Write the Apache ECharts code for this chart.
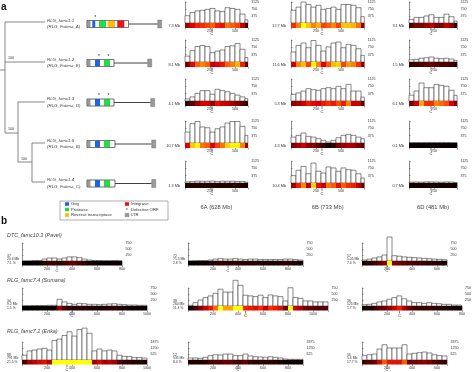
<!DOCTYPE html>
<html><head><meta charset="utf-8">
<script src="https://cdn.jsdelivr.net/npm/echarts@6/dist/echarts.min.js"></script>
<style>html,body{margin:0;padding:0;background:#fff}#c{width:474px;height:372px}</style>
</head><body><div id="c"></div><script>
// ================= DATA =================
const chromosomeTitles = ['6A (628 Mb)', '6B (733 Mb)', '6D (481 Mb)'];
const chromosomeLengths = [628, 733, 481];
const centromereMb = [270, 310, 220];
const binSizeMb = 50;
const xTickStepMb = 250;
const copyTicksA = [375, 750, 1125];

const familiesA = ['RLG_famc1.1', 'RLG_famc1.2', 'RLG_famc1.3', 'RLG_famc1.5', 'RLG_famc1.4'];
const aliasesA = ['(RLG_Fatima_A)', '(RLG_Fatima_E)', '(RLG_Fatima_D)', '(RLG_Fatima_B)', '(RLG_Fatima_C)'];
const coverage6A = ['7.3 Mb', '8.1 Mb', '4.1 Mb', '10.7 Mb', '1.3 Mb'];
const coverage6B = ['12.7 Mb', '11.6 Mb', '5.3 Mb', '4.3 Mb', '10.4 Mb'];
const coverage6D = ['3.1 Mb', '1.5 Mb', '6.1 Mb', '0.1 Mb', '0.7 Mb'];

// copies per 50 Mb bin
const famc1_1_6A = [390, 560, 650, 680, 730, 780, 650, 610, 820, 780, 730, 480, 170];
const famc1_1_6B = [680, 850, 1125, 990, 850, 950, 730, 780, 850, 730, 990, 990, 950, 820, 340];
const famc1_1_6D = [190, 300, 300, 375, 440, 300, 300, 475, 340, 100];
const famc1_2_6A = [300, 580, 790, 845, 790, 475, 560, 615, 790, 830, 950, 650, 230];
const famc1_2_6B = [510, 850, 970, 730, 1100, 850, 560, 770, 970, 1020, 730, 900, 850, 680, 340];
const famc1_2_6D = [120, 135, 190, 220, 255, 190, 170, 190, 150, 85];
const famc1_3_6A = [105, 210, 390, 530, 530, 350, 600, 530, 475, 390, 300, 210, 120];
const famc1_3_6B = [340, 410, 510, 630, 580, 545, 630, 680, 630, 750, 630, 850, 510, 510, 200];
const famc1_3_6D = [300, 510, 920, 680, 680, 850, 800, 750, 545, 290];
const famc1_5_6A = [560, 990, 1100, 820, 780, 560, 730, 820, 1020, 1100, 1100, 850, 390];
const famc1_5_6B = [300, 390, 510, 340, 300, 220, 135, 50, 135, 270, 390, 440, 390, 300, 220];
const famc1_5_6D = [20, 25, 20, 30, 25, 20, 30, 25, 20, 15];
const famc1_4_6A = [60, 80, 90, 85, 90, 100, 80, 90, 85, 90, 80, 75, 50];
const famc1_4_6B = [375, 650, 850, 475, 1020, 600, 510, 820, 770, 600, 770, 680, 650, 475, 255];
const famc1_4_6D = [40, 50, 45, 60, 55, 50, 45, 55, 50, 30];

// panel b
const familiesB = ['DTC_famc10.3 (Pavel)', 'RLG_famc7.4 (Sumana)', 'RLG_famc7.2 (Erika)'];
const binSizeB = 40;
const xTickStepB = 200;
const copyTicksB = [[250, 500, 750], [250, 500, 750], [625, 1250, 1875]];
const pavelStats = [['37', '20.6 Mb', '7.1 %'], ['72', '71.5 Mb', '2.8 %'], ['57', '5.05 Mb', '7.4 %']];
const sumanaStats = [['34', '9.2 Mb', '1.5 %'], ['38', '260 Mb', '11.3 %'], ['36', '125 Mb', '1.7 %']];
const erikaStats = [['88', '791 Mb', '21.5 %'], ['12', '535 Mb', '8.4 %'], ['56', '5.6 Mb', '17.7 %']];
const centromereB = [[280, 320, 200], [400, 460, 300], [360, 400, 200]];

const pavel_6A = [0, 0, 20, 20, 80, 125, 125, 80, 125, 170, 170, 140, 80, 40, 20, 20, 10, 10, 20, 10];
const pavel_6B = [0, 10, 20, 20, 40, 80, 100, 80, 80, 100, 80, 60, 80, 80, 60, 60, 60, 60, 60, 80, 80, 60, 40];
const pavel_6D = [40, 80, 125, 170, 250, 1000, 220, 200, 170, 155, 140, 125, 110, 95, 80, 70, 55];
const sumana_6A = [10, 10, 20, 20, 20, 30, 30, 280, 170, 110, 70, 110, 95, 70, 70, 55, 70, 85, 95, 70, 55, 40, 40, 30, 30];
const sumana_6B = [30, 140, 250, 350, 420, 530, 700, 580, 580, 1070, 860, 450, 420, 390, 450, 350, 460, 420, 390, 210, 760, 350, 320, 210, 210, 170, 170, 170];
const sumana_6D = [55, 70, 110, 170, 210, 280, 350, 420, 300, 210, 140, 140, 110, 140, 110, 95, 70, 70, 40, 40];
const erika_6A = [495, 945, 1035, 1145, 1220, 1035, 2025, 2180, 2550, 2940, 2490, 3170, 3320, 2780, 945, 1145, 945, 1035, 945, 495, 375, 375, 265, 265, 200];
const erika_6B = [210, 210, 180, 280, 450, 550, 520, 620, 620, 450, 450, 620, 420, 340, 310, 280, 340, 280, 210, 100, 70, 70, 70];
const erika_6D = [450, 550, 620, 1140, 1590, 1250, 1250, 1250, 1590, 620, 700, 760, 830, 730, 550, 450, 420];

// ================= LAYOUT / STYLE =================
const FONT = '"Liberation Sans", Arial, sans-serif';
const INK = '#333';
const A_ZERO_Y = [23, 62, 101, 143, 183];
const A_COL_X = [185, 291, 409];
const A_PX_PER_MB = 0.1;
const A_HIST_H = 22, A_STRIP_H = 5;
const B_ZERO_Y = [261, 306, 360];
const B_COL_X = [22, 188, 362];
const B_PX_PER_BIN = 5;
const B_HIST_H = 18, B_STRIP_H = 4.5;

const HEAT_A = [[0, [0, 0, 0]], [0.1, [48, 0, 0]], [0.3, [144, 0, 0]], [0.5, [224, 0, 0]], [0.65, [255, 64, 0]], [0.75, [255, 128, 0]], [0.9, [255, 208, 0]], [1, [255, 255, 0]]];
const HEAT_B = [[0, [0, 0, 0]], [0.12, [58, 0, 0]], [0.3, [176, 0, 0]], [0.42, [255, 32, 0]], [0.52, [255, 128, 0]], [0.6, [255, 255, 0]], [1, [255, 255, 0]]];
function heat(t, stops) {
  t = Math.max(0, Math.min(1, t));
  for (let i = 1; i < stops.length; i++) {
    if (t <= stops[i][0]) {
      const [t0, c0] = stops[i - 1], [t1, c1] = stops[i];
      const f = (t - t0) / (t1 - t0 || 1);
      const c = c0.map((v, k) => Math.round(v + (c1[k] - v) * f));
      return 'rgb(' + c.join(',') + ')';
    }
  }
  return 'rgb(' + stops[stops.length - 1][1].join(',') + ')';
}

const grids = [], xAxes = [], yAxes = [], series = [], graphic = [];
function txt(x, y, s, size, opt) {
  opt = opt || {};
  graphic.push({type: 'text', x: x, y: y, silent: true, style: {
    text: s, fontSize: size, fontFamily: FONT, fontStyle: opt.italic ? 'italic' : 'normal',
    fontWeight: opt.bold ? 'bold' : 'normal', fill: opt.color || INK,
    align: opt.align || 'left', verticalAlign: opt.va || 'middle',
    textAlign: opt.align || 'left', textVerticalAlign: opt.va || 'middle'}});
}
function line(x1, y1, x2, y2, w, c) {
  graphic.push({type: 'line', silent: true, shape: {x1, y1, x2, y2}, style: {stroke: c || '#555', lineWidth: w || 0.8}});
}
function rect(x, y, w, h, fill, stroke, lw) {
  graphic.push({type: 'rect', silent: true, shape: {x, y, width: w, height: h}, style: {fill: fill || 'none', stroke: stroke || null, lineWidth: lw || 0}});
}

function addHistogram(o) {
  const gi = grids.length;
  grids.push({left: o.x0, top: o.zeroY - o.histH, width: o.width, height: o.histH, containLabel: false});
  xAxes.push({gridIndex: gi, type: 'value', min: 0, max: o.xMax, show: false});
  yAxes.push({gridIndex: gi, type: 'value', min: 0, max: o.yTicks[2], interval: o.yTicks[0], position: 'right', offset: 2,
    axisLine: {show: true, lineStyle: {color: '#444', width: 0.6}},
    axisTick: {show: true, length: 1.5, lineStyle: {color: '#444', width: 0.5}},
    axisLabel: {show: true, fontSize: 3.6, color: INK, margin: 1.5, showMinLabel: false, fontFamily: FONT,
      formatter: v => String(v)},
    splitLine: {show: false}});
  const data = o.values.map((v, i) => [i * o.bin, Math.min((i + 1) * o.bin, o.len), v]);
  series.push({type: 'custom', xAxisIndex: gi, yAxisIndex: gi, silent: true, clip: false, data: data,
    encode: {x: [0, 1], y: 2},
    renderItem: (p, api) => {
      const a = api.coord([api.value(0), api.value(2)]);
      const b = api.coord([api.value(1), 0]);
      return {type: 'rect', shape: {x: a[0], y: a[1], width: b[0] - a[0], height: b[1] - a[1]},
        style: {fill: '#fff', stroke: '#3a3a3a', lineWidth: 0.6}};
    }});
  const si = grids.length;
  grids.push({left: o.x0, top: o.zeroY, width: o.width, height: o.stripH});
  xAxes.push({gridIndex: si, type: 'value', min: 0, max: o.xMax, interval: o.xStep,
    axisLine: {show: false}, axisTick: {show: true, length: 1.5, lineStyle: {color: '#444', width: 0.5}},
    axisLabel: {fontSize: 3.6, color: INK, margin: 1.2, fontFamily: FONT,
      formatter: v => (v > 0 && v % o.xStep === 0) ? String(v) : ''},
    splitLine: {show: false}});
  yAxes.push({gridIndex: si, type: 'value', min: 0, max: 1, show: false});
  series.push({type: 'custom', xAxisIndex: si, yAxisIndex: si, silent: true, data: data,
    encode: {x: [0, 1]},
    renderItem: (p, api) => {
      const a = api.coord([api.value(0), 1]);
      const b = api.coord([api.value(1), 0]);
      return {type: 'rect', shape: {x: a[0], y: a[1], width: b[0] - a[0] + 0.3, height: b[1] - a[1]},
        style: {fill: heat(api.value(2) / o.norm, o.stops)}};
    }});
  series.push({type: 'custom', xAxisIndex: si, yAxisIndex: si, silent: true, clip: false, data: [[o.cen, 0]],
    renderItem: (p, api) => {
      const c = api.coord([api.value(0), 0]);
      return {type: 'group', children: [
        {type: 'line', shape: {x1: c[0], y1: c[1], x2: c[0], y2: c[1] + 3}, style: {stroke: '#333', lineWidth: 0.6}},
        {type: 'text', style: {text: 'C', x: c[0], y: c[1] + 5.6, fontSize: 4, fontFamily: FONT, fill: INK, align: 'center', verticalAlign: 'middle', textAlign: 'center', textVerticalAlign: 'middle'}}
      ]};
    }});
}

// ---------- Panel a histograms ----------
const panelAValues = [
  [famc1_1_6A, famc1_1_6B, famc1_1_6D],
  [famc1_2_6A, famc1_2_6B, famc1_2_6D],
  [famc1_3_6A, famc1_3_6B, famc1_3_6D],
  [famc1_5_6A, famc1_5_6B, famc1_5_6D],
  [famc1_4_6A, famc1_4_6B, famc1_4_6D]
];
const coverageA = [coverage6A, coverage6B, coverage6D];
panelAValues.forEach((row, r) => {
  row.forEach((vals, c) => {
    const len = chromosomeLengths[c];
    addHistogram({x0: A_COL_X[c], zeroY: A_ZERO_Y[r], width: len * A_PX_PER_MB, histH: A_HIST_H, stripH: A_STRIP_H,
      xMax: len, len: len, bin: binSizeMb, xStep: xTickStepMb, yTicks: copyTicksA, values: vals,
      norm: copyTicksA[2], stops: HEAT_A, cen: centromereMb[c]});
    txt(A_COL_X[c] - 5, A_ZERO_Y[r] + 2.6, coverageA[c][r], 3.8, {align: 'right'});
  });
});
chromosomeTitles.forEach((t, c) => {
  txt(A_COL_X[c] + chromosomeLengths[c] * A_PX_PER_MB / 2, 207.5, t, 5.8, {align: 'center', color: '#444'});
});

// ---------- Panel b histograms ----------
const panelBValues = [[pavel_6A, pavel_6B, pavel_6D], [sumana_6A, sumana_6B, sumana_6D], [erika_6A, erika_6B, erika_6D]];
const panelBStats = [pavelStats, sumanaStats, erikaStats];
panelBValues.forEach((row, r) => {
  const rowMax = Math.max(...row.map(v => Math.max(...v)));
  row.forEach((vals, c) => {
    const n = vals.length;
    addHistogram({x0: B_COL_X[c], zeroY: B_ZERO_Y[r], width: n * B_PX_PER_BIN, histH: B_HIST_H, stripH: B_STRIP_H,
      xMax: n * binSizeB, len: n * binSizeB, bin: binSizeB, xStep: xTickStepB, yTicks: copyTicksB[r], values: vals,
      norm: rowMax, stops: HEAT_B, cen: centromereB[r][c]});
    const s = panelBStats[r][c];
    s.forEach((t, k) => txt(B_COL_X[c] - 15, B_ZERO_Y[r] - 5 + k * 3.3, t, 3.4));
  });
  txt(7, [235, 280, 331][r], familiesB[r], 5.4, {italic: true, color: '#444'});
});

// ---------- Panel letters ----------
txt(1, 7.5, 'a', 10, {bold: true, color: '#111'});
txt(1, 221.5, 'b', 10, {bold: true, color: '#111'});

// ---------- Tree ----------
[[0, 70, 5, 70], [5, 22, 5, 133], [5, 22, 45, 22], [5, 62, 45, 62], [5, 133, 18, 133], [18, 102, 18, 162],
 [18, 102, 45, 102], [18, 162, 32, 162], [32, 143, 32, 182], [32, 143, 45, 143], [32, 182, 45, 182]]
  .forEach(l => line(l[0], l[1], l[2], l[3], 0.7, '#555'));
txt(8, 57.5, '100', 3.6); txt(8, 128.5, '100', 3.6); txt(21, 158.5, '100', 3.6);

// ---------- Element structures ----------
const COL = {gag: '#1f63e6', pro: '#22dd44', rt: '#ffbb11', int: '#ee1111', ltr: '#999'};
const geneY = [24, 63, 102.5, 144, 183.5];
const geneEnd = [128.5, 114, 114, 115, 115];
const ltrX = [157.7, 147.7, 150.7, 151.7, 151.7];
const domainsFull = [['ltr', 87, 90.5], ['gag', 92.3, 95.3], ['pro', 99, 106], ['rt', 107.7, 115], ['int', 117.3, 124.3]];
const domainsShort = [['ltr', 87, 90.5], ['gag', 95, 100], ['pro', 104, 110]];
const defective = [['gag'], ['gag', 'pro'], ['gag', 'pro'], [], []];
geneY.forEach((y, r) => {
  const doms = r === 0 ? domainsFull : domainsShort;
  line(geneEnd[r], y, ltrX[r], y, 1, '#444');
  rect(87, y - 3.5, geneEnd[r] - 87, 7, '#fff', '#555', 0.5);
  doms.forEach(d => rect(d[1], y - 3.5, d[2] - d[1], 7, COL[d[0]], null, 0));
  rect(87, y - 3.5, geneEnd[r] - 87, 7, 'none', '#555', 0.5);
  rect(ltrX[r], y - 4, 4, 8, COL.ltr, '#666', 0.4);
  defective[r].forEach(k => {
    const d = doms.find(q => q[0] === k);
    txt((d[1] + d[2]) / 2 + 1.5, y - 6.5, '*', 5, {align: 'center', color: '#222'});
  });
  txt(47, y - 3.3, familiesA[r], 4.4, {italic: true, color: '#444'});
  txt(47, y + 2.8, aliasesA[r], 4.4, {italic: true, color: '#444'});
});

// ---------- Legend ----------
rect(60, 201, 108, 19, 'none', '#777', 0.6);
[['gag', 'Gog', 65, 204], ['pro', 'Protease', 65, 209.5], ['rt', 'Reverse transcriptase', 65, 215],
 ['int', 'Integrase', 125, 204], ['ltr', 'LTR', 125, 215]].forEach(it => {
  rect(it[2], it[3] - 1.8, 4, 3.6, COL[it[0]], it[0] === 'ltr' ? '#666' : null, 0.3);
  txt(it[2] + 6, it[3], it[1], 4.2);
});
txt(127, 210.3, '*', 4.5, {align: 'center'});
txt(131, 209.5, 'Defective ORF', 4.2);

const chart = echarts.init(document.getElementById('c'), null, {renderer: 'canvas'});
chart.setOption({
  animation: false, backgroundColor: '#fff',
  grid: grids, xAxis: xAxes, yAxis: yAxes, series: series, graphic: graphic
});
</script></body></html>
